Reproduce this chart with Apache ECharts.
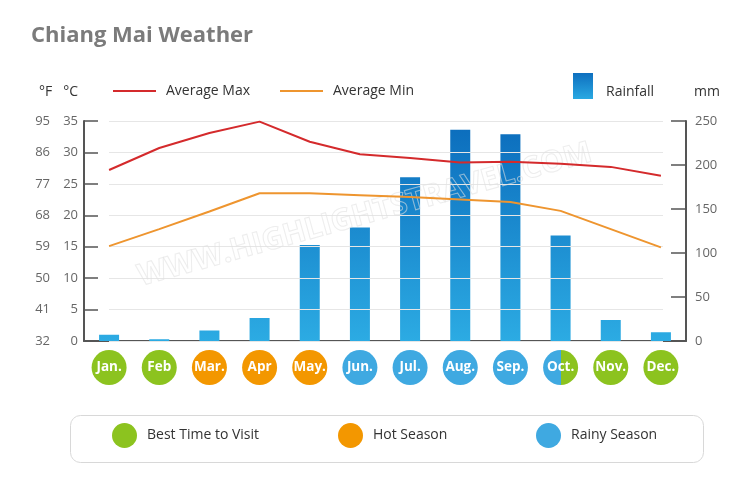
<!DOCTYPE html>
<html>
<head>
<meta charset="utf-8">
<script src="https://cdn.jsdelivr.net/npm/echarts@6/dist/echarts.min.js"></script>
<style>
  html, body { margin: 0; padding: 0; background: #fff; }
  #chart { width: 750px; height: 490px; }
</style>
</head>
<body>
<div id="chart"></div>
<script>
// values
const months = ['Jan.', 'Feb', 'Mar.', 'Apr', 'May.', 'Jun.', 'Jul.', 'Aug.', 'Sep.', 'Oct.', 'Nov.', 'Dec.'];
const seasons = ['best', 'best', 'hot', 'hot', 'hot', 'rainy', 'rainy', 'rainy', 'rainy', 'rainyBest', 'best', 'best'];
const avgMax = [27.2, 30.7, 33.1, 34.9, 31.7, 29.7, 29.1, 28.4, 28.5, 28.2, 27.7, 26.3];
const avgMin = [15.1, 17.8, 20.6, 23.5, 23.5, 23.2, 22.9, 22.5, 22.1, 20.7, 17.8, 14.9];
const rainfall = [7, 2, 12, 26, 109, 129, 186, 240, 235, 120, 24, 10];
const seasonNames = ['Best Time to Visit', 'Hot Season', 'Rainy Season'];
const seasonColors = ['#8cc31f', '#f39700', '#3fa9e1'];

const font = '"Open Sans", "Noto Sans", sans-serif';
const red = '#d42a2c';
const orange = '#ee952f';

const barGradient = (global) => global
  ? { type: 'linear', x: 0, y: 121, x2: 0, y2: 341, global: true,
      colorStops: [{ offset: 0, color: '#0b6cbc' }, { offset: 1, color: '#2cabe3' }] }
  : { type: 'linear', x: 0, y: 0, x2: 0, y2: 1,
      colorStops: [{ offset: 0, color: '#0e6fbf' }, { offset: 1, color: '#2aa9e2' }] };

const circle = (bg) => ({
  backgroundColor: bg, width: 35, height: 35, lineHeight: 35, borderRadius: 17.5,
  align: 'center', color: '#fff', fontWeight: 'bold', fontSize: 13.5, fontFamily: font
});

const myChart = echarts.init(document.getElementById('chart'));

option = {
  textStyle: { fontFamily: font },
  title: {
    text: 'Chiang Mai Weather',
    left: 31, top: 25, padding: 0,
    textStyle: { fontSize: 22, fontWeight: 'bold', color: '#7b7b7b', fontFamily: font }
  },
  legend: [
    {
      data: [{ name: 'Average Max', icon: 'rect' }, { name: 'Average Min', icon: 'rect' }],
      left: 113, top: 84, padding: 0,
      itemWidth: 43, itemHeight: 2, itemGap: 30,
      textStyle: { fontSize: 14, color: '#333', padding: [0, 0, 0, 5] }
    },
    {
      data: [{ name: 'Rainfall', icon: 'rect', itemStyle: { color: barGradient(false) } }],
      left: 573, top: 73, padding: 0,
      itemWidth: 20, itemHeight: 26,
      formatter: (n) => `{a|${n}}`,
      textStyle: {
        fontSize: 14, color: '#333',
        rich: { a: { fontSize: 14, color: '#333', padding: [12, 0, 0, 8] } }
      }
    },
    ...seasonNames.map((n, i) => ({
      data: [n],
      left: [112, 338, 536][i], top: 423, padding: 0,
      icon: 'circle', itemWidth: 25, itemHeight: 25,
      itemStyle: { opacity: 1 },
      textStyle: { fontSize: 14, color: '#333', padding: [0, 0, 0, 5] }
    }))
  ],
  grid: [
    { left: 84, right: 64, top: 121, bottom: 149 },
    { left: 109, right: 87, top: 121, bottom: 149 }
  ],
  xAxis: [
    {
      type: 'category', gridIndex: 0, data: months,
      axisLine: { lineStyle: { color: '#555', width: 2 } },
      axisTick: { inside: true, length: 5, lineStyle: { color: '#777' } },
      axisLabel: {
        margin: 9, interval: 0,
        formatter: (v, i) => `{${seasons[i]}|${v}}`,
        rich: {
          best: circle(seasonColors[0]),
          hot: circle(seasonColors[1]),
          rainy: circle(seasonColors[2]),
          rainyBest: circle({
            type: 'linear', x: 0, y: 0, x2: 1, y2: 0,
            colorStops: [
              { offset: 0, color: seasonColors[2] }, { offset: 0.5, color: seasonColors[2] },
              { offset: 0.5, color: seasonColors[0] }, { offset: 1, color: seasonColors[0] }
            ]
          })
        }
      }
    },
    { type: 'category', gridIndex: 1, data: months, show: false }
  ],
  yAxis: [
    {
      type: 'value', gridIndex: 0, min: 0, max: 35, interval: 5,
      name: '°F   °C', nameLocation: 'end', nameGap: 22,
      nameTextStyle: { fontSize: 14, color: '#333', align: 'right', padding: [0, 6, 0, 0] },
      axisLine: { show: true, lineStyle: { color: '#555', width: 2 } },
      axisTick: { show: true, inside: true, length: 14, lineStyle: { color: '#555', width: 1.5 } },
      splitLine: { show: false },
      axisLabel: {
        margin: 6,
        formatter: (v) => `{f|${Math.round(v * 9 / 5 + 32)}}{c|${v}}`,
        rich: {
          f: { width: 16, align: 'right', fontSize: 13, color: '#666' },
          c: { width: 28, align: 'right', fontSize: 13, color: '#666' }
        }
      }
    },
    {
      type: 'value', gridIndex: 0, position: 'right', min: 0, max: 250, interval: 50,
      name: 'mm', nameLocation: 'end', nameGap: 22,
      nameTextStyle: { fontSize: 14, color: '#333', align: 'left', padding: [0, 0, 0, 8] },
      axisLine: { show: true, lineStyle: { color: '#555', width: 2 } },
      axisTick: { show: true, inside: true, length: 15, lineStyle: { color: '#555', width: 1.5 } },
      splitLine: { show: false },
      axisLabel: { margin: 9, fontSize: 13, color: '#666' }
    },
    {
      type: 'value', gridIndex: 1, min: 0, max: 35, interval: 5, z: 3,
      axisLine: { show: false }, axisTick: { show: false }, axisLabel: { show: false },
      splitLine: { show: true, lineStyle: { color: '#e6e6e6', width: 1 } }
    }
  ],
  graphic: [
    {
      type: 'rect', left: 68, top: 413, z: 0,
      shape: { width: 633, height: 47, r: 10 },
      style: { fill: 'none', stroke: '#d8d8d8', lineWidth: 1 }
    },
    {
      type: 'text', x: 365, y: 215, rotation: 0.27, z: 4,
      style: {
        text: 'WWW.HIGHLIGHTSTRAVEL.COM', align: 'center', verticalAlign: 'middle',
        font: 'bold 30px ' + font, fill: 'rgba(255,255,255,0)',
        stroke: 'rgba(225,225,225,0.6)', lineWidth: 1
      }
    }
  ],
  series: [
    {
      name: 'Rainfall', type: 'bar', xAxisIndex: 0, yAxisIndex: 1, z: 2,
      barWidth: 20, data: rainfall,
      itemStyle: { color: barGradient(true) }
    },
    {
      name: 'Average Max', type: 'line', xAxisIndex: 0, yAxisIndex: 0, z: 5,
      symbol: 'none', data: avgMax,
      lineStyle: { color: red, width: 2 }, itemStyle: { color: red }
    },
    {
      name: 'Average Min', type: 'line', xAxisIndex: 0, yAxisIndex: 0, z: 5,
      symbol: 'none', data: avgMin,
      lineStyle: { color: orange, width: 2 }, itemStyle: { color: orange }
    },
    ...seasonNames.map((n, i) => ({
      name: n, type: 'scatter', data: [], itemStyle: { color: seasonColors[i], opacity: 1 }
    }))
  ]
};

option && myChart.setOption(option);
</script>
</body>
</html>
